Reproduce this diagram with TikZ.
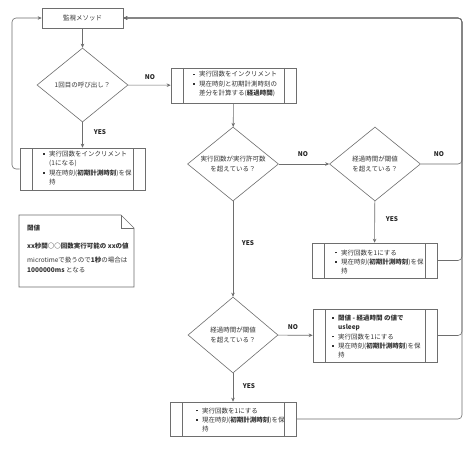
\documentclass[tikz,border=0pt]{standalone}
\usepackage{fontspec}
\setmainfont{Noto Sans CJK JP}
\usetikzlibrary{shapes.geometric,arrows.meta}
\definecolor{ln}{HTML}{6E6E6E}
\definecolor{tx}{HTML}{333333}
\newcommand{\bul}{\makebox[6pt][l]{\raisebox{1.6pt}{\rule{1.6pt}{1.6pt}}}}
\newcommand{\ind}{\hspace*{6pt}}
\begin{document}
\begin{tikzpicture}[x=1pt,y=-1pt,
  every node/.style={font=\fontsize{6.5}{9.4}\selectfont, text=tx},
  plainbox/.style={draw=ln, line width=0.6pt, rectangle, inner sep=0pt},
  procbox/.style={draw=ln, line width=0.6pt, rectangle, inner sep=0pt,
    path picture={\draw[ln, line width=0.6pt]
      ([xshift=12pt]path picture bounding box.north west) -- ([xshift=12pt]path picture bounding box.south west)
      ([xshift=-12pt]path picture bounding box.north east) -- ([xshift=-12pt]path picture bounding box.south east);}},
  decision/.style={draw=ln, line width=0.6pt, diamond, aspect=1.23, inner sep=0pt, align=center},
  btext/.style={anchor=west, align=left, inner sep=0pt},
  lbl/.style={font=\fontsize{6.5}{8}\selectfont\bfseries, text=black!85, inner sep=0pt},
  conn/.style={draw=ln, line width=0.6pt, -{Stealth[length=4pt,width=3.5pt]}},
  bus/.style={draw=ln, line width=0.6pt, rounded corners=4pt, -{Stealth[length=4pt,width=3.5pt]}}
]
\useasboundingbox (0,0) rectangle (474,448);
\fill[white] (0,0) rectangle (474,448);

% nodes
\node[plainbox, minimum width=81pt, minimum height=20pt] (top) at (82.5,18) {監視メソッド};
\node[decision, minimum width=91pt, minimum height=74pt] (d1) at (82.5,85) {1回目の呼び出し？};
\node[procbox, minimum width=125pt, minimum height=35pt] (b2) at (233.5,85.3) {};
\node[btext] (b2t) at (193,84) {\bul 実行回数をインクリメント\\\bul 現在時刻と初期計測時刻の\\\ind 差分を計算する(\textbf{経過時間})};
\node[procbox, minimum width=125pt, minimum height=42pt] (b3) at (82.5,169) {};
\node[btext] (b3t) at (43,168) {\bul 実行回数をインクリメント\\\ind (1になる)\\\bul 現在時刻(\textbf{初期計測時刻})を保\\\ind 持};
\node[decision, minimum width=91pt, minimum height=74pt] (d2) at (233,164) {実行回数が実行許可数\\を超えている？};
\node[decision, minimum width=91pt, minimum height=74pt] (d3) at (375,164) {経過時間が閾値\\を超えている？};
\node[procbox, minimum width=125pt, minimum height=35pt] (b4) at (374.5,260.5) {};
\node[btext] (b4t) at (335,262) {\bul 実行回数を1にする\\\bul 現在時刻(\textbf{初期計測時刻})を保\\\ind 持};
\node[decision, minimum width=90pt, minimum height=76pt] (d4) at (233,335) {経過時間が閾値\\を超えている？};
\node[procbox, minimum width=124pt, minimum height=53pt] (b5) at (375,335.5) {};
\node[btext] (b5t) at (332,336.5) {\bul \textbf{閾値 - 経過時間 の値で}\\\ind \textbf{usleep}\\\bul 実行回数を1にする\\\bul 現在時刻(\textbf{初期計測時刻})を保\\\ind 持};
\node[procbox, minimum width=126pt, minimum height=34pt] (b6) at (233,419) {};
\node[btext] (b6t) at (196,420) {\bul 実行回数を1にする\\\bul 現在時刻(\textbf{初期計測時刻})を保\\\ind 持};

% note
\coordinate (n1) at (19,215);
\coordinate (n2) at (121,215);
\coordinate (n3) at (134,228);
\coordinate (n4) at (134,287);
\coordinate (n5) at (19,287);
\coordinate (n6) at (121,228);
\draw[ln, line width=0.6pt, fill=white] (n1) -- (n2) -- (n3) -- (n4) -- (n5) -- cycle;
\draw[ln, line width=0.6pt] (n2) -- (n6) -- (n3);
\node[btext, font=\fontsize{6.5}{9.4}\selectfont\bfseries] (nt1) at (27,228) {閾値};
\node[btext, font=\fontsize{6.5}{9.4}\selectfont\bfseries] (nt2) at (27,246) {xx秒間○○回数実行可能の xxの値};
\node[btext] (nt3) at (27,265) {microtimeで扱うので\textbf{1秒}の場合は\\\textbf{1000000ms} となる};

% connectors
\draw[conn] (top) -- (d1);
\draw[conn] (d1) -- (b2);
\draw[conn] (d1) -- (b3);
\draw[bus] (b3.west) -- (12,169) -- (12,18) -- (top.west);
\draw[conn] (b2) -- (d2);
\draw[conn] (d2) -- (d3);
\draw[conn] (d2) -- (d4);
\draw[conn] (d3) -- (b4);
\draw[conn] (d4) -- (b5);
\draw[conn] (d4) -- (b6);
\draw[bus] (d3.east) -- (462,164) -- (462,18) -- (top.east);
\draw[bus] (b4.east) -- (462,260.5) -- (462,18) -- (top.east);
\draw[bus] (b5.east) -- (462,335.5) -- (462,18) -- (top.east);
\draw[bus] (b6.east) -- (462,419) -- (462,18) -- (top.east);

% labels
\node[lbl] (l1) at (150,77) {NO};
\node[lbl] (l2) at (100,132) {YES};
\node[lbl] (l3) at (303,154) {NO};
\node[lbl] (l4) at (439,154) {NO};
\node[lbl] (l5) at (392,219) {YES};
\node[lbl] (l6) at (248,243) {YES};
\node[lbl] (l7) at (293,327) {NO};
\node[lbl] (l8) at (249,386) {YES};
\end{tikzpicture}
\end{document}
